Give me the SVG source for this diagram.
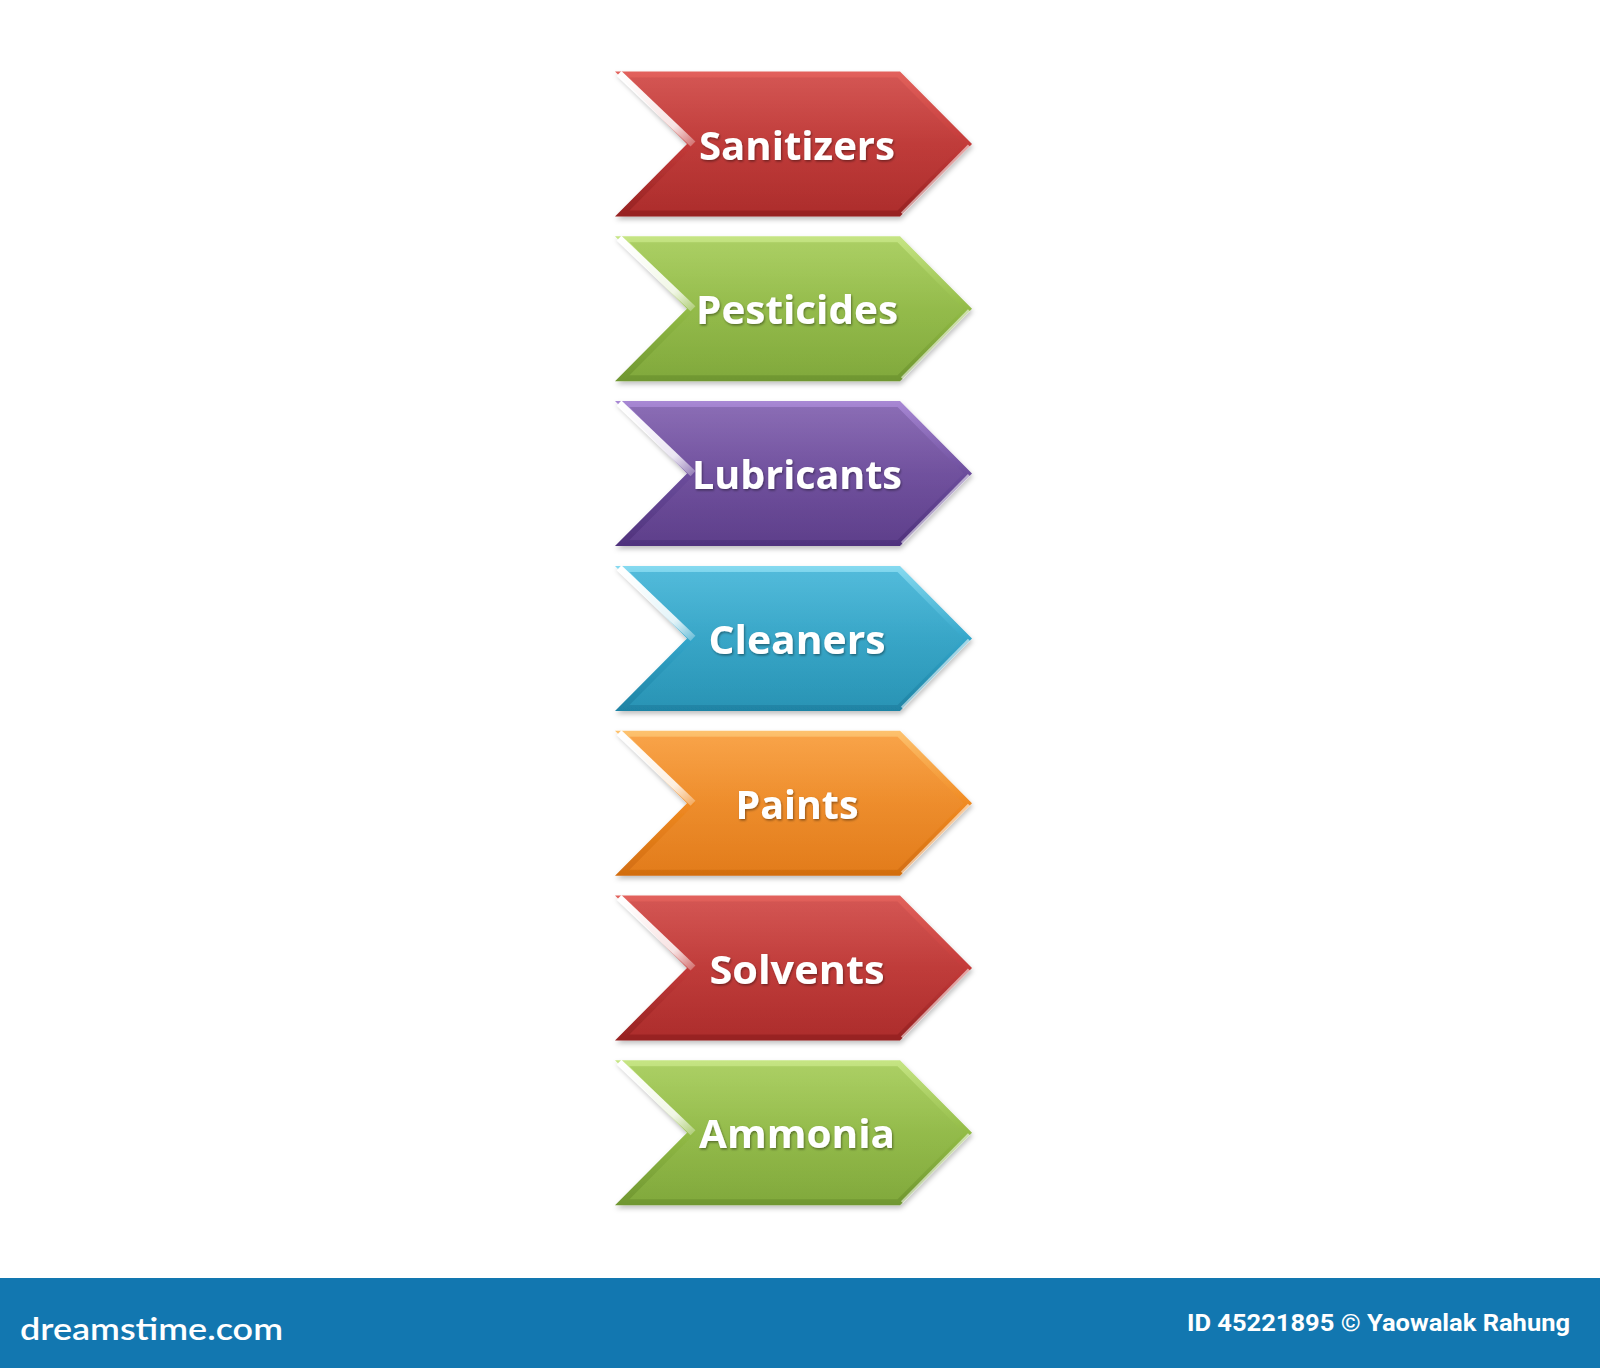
<svg xmlns="http://www.w3.org/2000/svg" xmlns:xlink="http://www.w3.org/1999/xlink" width="1600" height="1368" viewBox="0 0 1600 1368">
<style>
.lbl{font-family:"Open Sans","Liberation Sans",sans-serif;font-weight:700;font-size:40px;fill:#ffffff;text-anchor:middle;filter:url(#tsh)}
.ban{fill:#ffffff}
.hl{stroke:url(#hl);stroke-width:7;filter:url(#bl)}
.hr{stroke:#fff;stroke-opacity:0.55;stroke-width:3;filter:url(#bl)}
</style>
<defs>
<path id="outer" d="M0,0 H285 L357,72.5 L285,145 H0 L72,72.5 Z"/>
<path id="inner" d="M14.5,6 H282.5 L348.5,72.5 L282.5,139 H14.5 L80.5,72.5 Z"/>
<filter id="sh" x="-5%" y="-5%" width="115%" height="125%"><feDropShadow dx="1" dy="3" stdDeviation="2.5" flood-color="#000" flood-opacity="0.25"/></filter>
<filter id="tsh" x="-5%" y="-20%" width="115%" height="150%"><feDropShadow dx="1" dy="1.5" stdDeviation="1.2" flood-color="#000" flood-opacity="0.4"/></filter>
<filter id="bl"><feGaussianBlur stdDeviation="0.6"/></filter>
<linearGradient id="gloss" x1="0" y1="0" x2="0" y2="1">
<stop offset="0" stop-color="#fff" stop-opacity="0.12"/><stop offset="0.5" stop-color="#fff" stop-opacity="0.03"/><stop offset="1" stop-color="#fff" stop-opacity="0"/>
</linearGradient>
<linearGradient id="hl" x1="0" y1="0" x2="1" y2="1">
<stop offset="0" stop-color="#fff" stop-opacity="1"/><stop offset="0.75" stop-color="#fff" stop-opacity="0.85"/><stop offset="1" stop-color="#fff" stop-opacity="0.3"/>
</linearGradient>
<linearGradient id="redO" x1="0" y1="0" x2="0" y2="1"><stop offset="0" stop-color="#e2625c"/><stop offset="0.5" stop-color="#c33a39"/><stop offset="1" stop-color="#962222"/></linearGradient>
<linearGradient id="redI" x1="0" y1="0" x2="0" y2="1"><stop offset="0" stop-color="#cd3e3b"/><stop offset="1" stop-color="#ae2e2d"/></linearGradient>
<linearGradient id="grnO" x1="0" y1="0" x2="0" y2="1"><stop offset="0" stop-color="#c6e584"/><stop offset="0.5" stop-color="#92bb46"/><stop offset="1" stop-color="#6f9630"/></linearGradient>
<linearGradient id="grnI" x1="0" y1="0" x2="0" y2="1"><stop offset="0" stop-color="#9fc84e"/><stop offset="1" stop-color="#82aa3d"/></linearGradient>
<linearGradient id="purO" x1="0" y1="0" x2="0" y2="1"><stop offset="0" stop-color="#a888d4"/><stop offset="0.5" stop-color="#6c4d9c"/><stop offset="1" stop-color="#4f327c"/></linearGradient>
<linearGradient id="purI" x1="0" y1="0" x2="0" y2="1"><stop offset="0" stop-color="#7a58aa"/><stop offset="1" stop-color="#5f408c"/></linearGradient>
<linearGradient id="cyaO" x1="0" y1="0" x2="0" y2="1"><stop offset="0" stop-color="#86daf0"/><stop offset="0.5" stop-color="#33a6ca"/><stop offset="1" stop-color="#1f83a4"/></linearGradient>
<linearGradient id="cyaI" x1="0" y1="0" x2="0" y2="1"><stop offset="0" stop-color="#3ab1d5"/><stop offset="1" stop-color="#2a95b6"/></linearGradient>
<linearGradient id="orgO" x1="0" y1="0" x2="0" y2="1"><stop offset="0" stop-color="#fdc26f"/><stop offset="0.5" stop-color="#f08a22"/><stop offset="1" stop-color="#d26d10"/></linearGradient>
<linearGradient id="orgI" x1="0" y1="0" x2="0" y2="1"><stop offset="0" stop-color="#f7962f"/><stop offset="1" stop-color="#e37d1c"/></linearGradient>
</defs>
<rect width="1600" height="1368" fill="#ffffff"/>
<g id="connectors"/>
<g id="n1" transform="translate(615,71.5)">
<g filter="url(#sh)"><use href="#outer" fill="url(#redO)"/></g>
<use href="#inner" fill="url(#redI)"/><use href="#inner" fill="url(#gloss)"/>
<line class="hl" x1="4" y1="2" x2="78" y2="72.5"/>
<line class="hr" x1="354" y1="74" x2="287" y2="142"/>
<text class="lbl" x="182" y="88" textLength="196" lengthAdjust="spacingAndGlyphs">Sanitizers</text>
</g>
<g id="n2" transform="translate(615,236.3)">
<g filter="url(#sh)"><use href="#outer" fill="url(#grnO)"/></g>
<use href="#inner" fill="url(#grnI)"/><use href="#inner" fill="url(#gloss)"/>
<line class="hl" x1="4" y1="2" x2="78" y2="72.5"/>
<line class="hr" x1="354" y1="74" x2="287" y2="142"/>
<text class="lbl" x="182" y="88" textLength="202" lengthAdjust="spacingAndGlyphs">Pesticides</text>
</g>
<g id="n3" transform="translate(615,401.1)">
<g filter="url(#sh)"><use href="#outer" fill="url(#purO)"/></g>
<use href="#inner" fill="url(#purI)"/><use href="#inner" fill="url(#gloss)"/>
<line class="hl" x1="4" y1="2" x2="78" y2="72.5"/>
<line class="hr" x1="354" y1="74" x2="287" y2="142"/>
<text class="lbl" x="182" y="88" textLength="210" lengthAdjust="spacingAndGlyphs">Lubricants</text>
</g>
<g id="n4" transform="translate(615,565.9)">
<g filter="url(#sh)"><use href="#outer" fill="url(#cyaO)"/></g>
<use href="#inner" fill="url(#cyaI)"/><use href="#inner" fill="url(#gloss)"/>
<line class="hl" x1="4" y1="2" x2="78" y2="72.5"/>
<line class="hr" x1="354" y1="74" x2="287" y2="142"/>
<text class="lbl" x="182" y="88" textLength="177" lengthAdjust="spacingAndGlyphs">Cleaners</text>
</g>
<g id="n5" transform="translate(615,730.7)">
<g filter="url(#sh)"><use href="#outer" fill="url(#orgO)"/></g>
<use href="#inner" fill="url(#orgI)"/><use href="#inner" fill="url(#gloss)"/>
<line class="hl" x1="4" y1="2" x2="78" y2="72.5"/>
<line class="hr" x1="354" y1="74" x2="287" y2="142"/>
<text class="lbl" x="182" y="88" textLength="123" lengthAdjust="spacingAndGlyphs">Paints</text>
</g>
<g id="n6" transform="translate(615,895.5)">
<g filter="url(#sh)"><use href="#outer" fill="url(#redO)"/></g>
<use href="#inner" fill="url(#redI)"/><use href="#inner" fill="url(#gloss)"/>
<line class="hl" x1="4" y1="2" x2="78" y2="72.5"/>
<line class="hr" x1="354" y1="74" x2="287" y2="142"/>
<text class="lbl" x="182" y="88" textLength="175" lengthAdjust="spacingAndGlyphs">Solvents</text>
</g>
<g id="n7" transform="translate(615,1060.3)">
<g filter="url(#sh)"><use href="#outer" fill="url(#grnO)"/></g>
<use href="#inner" fill="url(#grnI)"/><use href="#inner" fill="url(#gloss)"/>
<line class="hl" x1="4" y1="2" x2="78" y2="72.5"/>
<line class="hr" x1="354" y1="74" x2="287" y2="142"/>
<text class="lbl" x="182" y="88" textLength="196" lengthAdjust="spacingAndGlyphs">Ammonia</text>
</g>
<g id="banner">
<rect x="0" y="1278" width="1600" height="90" fill="#1277b0"/>
<text class="ban" x="20" y="1340" font-family="Lato, 'Open Sans', sans-serif" font-weight="600" font-size="31" textLength="263" lengthAdjust="spacingAndGlyphs">dreamstime.com</text>
<text class="ban" x="1187" y="1331" font-family="Roboto, 'Liberation Sans', sans-serif" font-weight="700" font-size="23" textLength="383" lengthAdjust="spacingAndGlyphs">ID 45221895 © Yaowalak Rahung</text>
</g>
</svg>
